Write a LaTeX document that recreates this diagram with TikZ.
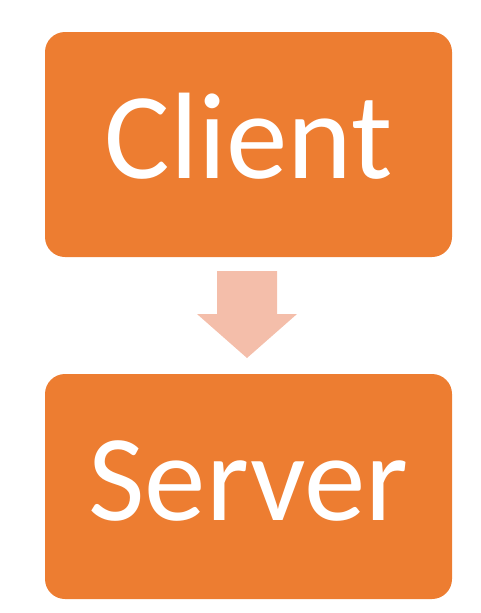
\documentclass[tikz,border=0pt]{standalone}
\usepackage{fontspec}
\setmainfont{Carlito}
\definecolor{boxorange}{HTML}{ED7D31}
\definecolor{arrowpink}{HTML}{F4BEAA}
\tikzset{
stage/.style={
	  fill=boxorange, rounded corners=20pt, text=white,
	    minimum width=407pt, minimum height=225pt, inner sep=0pt,
    font=\fontsize{123}{123}\selectfont, text height=67pt, text depth=0pt},
flow/.style={fill=arrowpink}
}

\begin{document}
\begin{tikzpicture}[x=1pt, y=-1pt]
	\useasboundingbox (0,0) rectangle (480,613);
	\node[stage] (client) at (248.5,144.5) {Client};
	\node[stage] (server) at (248.5,486.5) {Server};
	% block arrow between the two boxes
	\fill[flow] (217,271) -- (277,271) -- (277,314) -- (297,314)
		-- (247,358) -- (197,314) -- (217,314) -- cycle;
\end{tikzpicture}
\end{document}
